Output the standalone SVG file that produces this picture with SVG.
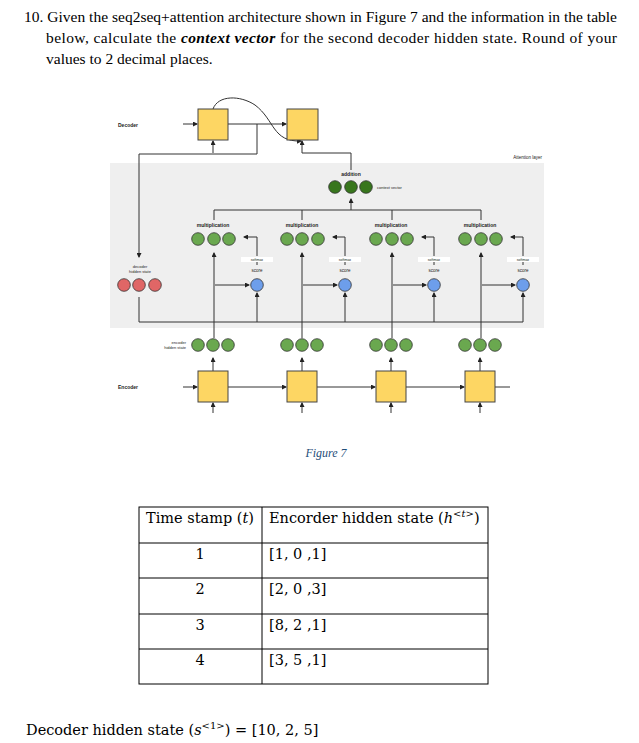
<svg xmlns="http://www.w3.org/2000/svg" width="639" height="743" viewBox="0 0 639 743">
<defs>
<marker id="a" markerWidth="5" markerHeight="5" refX="4" refY="2.5" orient="auto" markerUnits="userSpaceOnUse"><path d="M0,0L5,2.5L0,5z" fill="#222"/></marker>
<style>
.q{font-family:"Liberation Serif",serif;font-size:15.5px;fill:#000}
.t{font-family:"DejaVu Serif",serif;font-size:14.5px;fill:#000}
.s{font-family:"Liberation Sans",sans-serif;fill:#222}
.b{fill:#fdd663;stroke:#444;stroke-width:1}
.l{fill:none;stroke:#333;stroke-width:1}
.g{fill:#6aa84f;stroke:#333;stroke-width:0.8}
.dg{fill:#38761d;stroke:#333;stroke-width:0.8}
.r{fill:#e06666;stroke:#333;stroke-width:0.8}
.bl{fill:#6d9eeb;stroke:#333;stroke-width:0.8}
</style>
</defs>
<rect width="639" height="743" fill="#fff"/>
<text class="q" x="24" y="22" textLength="593" lengthAdjust="spacing">10. Given the seq2seq+attention architecture shown in Figure 7 and the information in the table</text>
<text class="q" x="46" y="43" textLength="571" lengthAdjust="spacing">below, calculate the <tspan font-weight="bold" font-style="italic">context vector</tspan> for the second decoder hidden state. Round of your</text>
<text class="q" x="46" y="64">values to 2 decimal places.</text>

<rect x="110" y="163" width="434" height="165" fill="#efefef"/>
<text class="s" x="542" y="159" font-size="4.5" text-anchor="end">Attention layer</text>
<text class="s" x="118" y="127" font-size="5" font-weight="bold">Decoder</text>
<text class="s" x="118" y="389" font-size="5" font-weight="bold">Encoder</text>
<text class="s" x="351" y="176" font-size="5" font-weight="bold" text-anchor="middle">addition</text>
<text class="s" x="377" y="189" font-size="4">context vector</text>
<text class="s" x="140" y="268" font-size="4" text-anchor="middle">decoder</text>
<text class="s" x="140" y="273" font-size="4" text-anchor="middle">hidden state</text>
<text class="s" x="186" y="344" font-size="4" text-anchor="end">encoder</text>
<text class="s" x="186" y="349" font-size="4" text-anchor="end">hidden state</text>

<g id="connectors">
<path class="l" d="M183,124H197" marker-end="url(#a)"/>
<path class="l" d="M228,124H286" marker-end="url(#a)"/>
<path class="l" d="M213,109C218,95 240,95 255,105C275,120 272,142 301,141" marker-end="url(#a)"/>
<path class="l" d="M213,153V141" marker-end="url(#a)"/>
<path class="l" d="M257,124V154H139V257" marker-end="url(#a)"/>
<path class="l" d="M351,170V153H302V141" marker-end="url(#a)"/>
<path class="l" d="M214,220V210H481V220M302,210V220M392,210V220"/>
<path class="l" d="M351,210V199" marker-end="url(#a)"/>
<path class="l" d="M139,297V322H523"/>
<g id="enc-lines">
<path class="l" d="M183,387H197" marker-end="url(#a)"/>
<path class="l" d="M228,387H286" marker-end="url(#a)"/>
<path class="l" d="M317,387H375" marker-end="url(#a)"/>
<path class="l" d="M406,387H464" marker-end="url(#a)"/>
<path class="l" d="M495,387H510"/>
</g>
</g>

<g id="decoder1"><rect class="b" x="198" y="109" width="30" height="31"/></g>
<g id="decoder2"><rect class="b" x="287" y="109" width="31" height="31"/></g>
<g id="context"><circle class="dg" cx="335" cy="187" r="6.3"/><circle class="dg" cx="351" cy="187" r="6.3"/><circle class="dg" cx="366" cy="187" r="6.3"/></g>
<g id="dec-hidden"><circle class="r" cx="124" cy="285" r="6.3"/><circle class="r" cx="139" cy="285" r="6.3"/><circle class="r" cx="155" cy="285" r="6.3"/></g>

<g id="att1">
<text class="s" x="213" y="227" font-size="5" font-weight="bold" text-anchor="middle">multiplication</text>
<circle class="g" cx="198" cy="239" r="6.3"/><circle class="g" cx="214" cy="239" r="6.3"/><circle class="g" cx="229" cy="239" r="6.3"/>
<path class="l" d="M257,256V237H244" marker-end="url(#a)"/>
<rect x="241" y="257" width="32" height="5" fill="#fff"/><text class="s" x="257" y="261" font-size="3.5" text-anchor="middle">softmax</text>
<path class="l" d="M257,262V265"/>
<text class="s" x="257" y="272" font-size="4.5" text-anchor="middle">score</text>
<circle class="bl" cx="257" cy="285" r="6.3"/>
<path class="l" d="M214,338V253" marker-end="url(#a)"/>
<path class="l" d="M215,285H249" marker-end="url(#a)"/>
<path class="l" d="M257,322V293" marker-end="url(#a)"/>
</g>
<g id="att2">
<text class="s" x="302" y="227" font-size="5" font-weight="bold" text-anchor="middle">multiplication</text>
<circle class="g" cx="287" cy="239" r="6.3"/><circle class="g" cx="302" cy="239" r="6.3"/><circle class="g" cx="318" cy="239" r="6.3"/>
<path class="l" d="M345,256V237H333" marker-end="url(#a)"/>
<rect x="329" y="257" width="32" height="5" fill="#fff"/><text class="s" x="345" y="261" font-size="3.5" text-anchor="middle">softmax</text>
<path class="l" d="M345,262V265"/>
<text class="s" x="345" y="272" font-size="4.5" text-anchor="middle">score</text>
<circle class="bl" cx="345" cy="285" r="6.3"/>
<path class="l" d="M302,338V253" marker-end="url(#a)"/>
<path class="l" d="M303,285H337" marker-end="url(#a)"/>
<path class="l" d="M345,322V293" marker-end="url(#a)"/>
</g>
<g id="att3">
<text class="s" x="391" y="227" font-size="5" font-weight="bold" text-anchor="middle">multiplication</text>
<circle class="g" cx="376" cy="239" r="6.3"/><circle class="g" cx="392" cy="239" r="6.3"/><circle class="g" cx="407" cy="239" r="6.3"/>
<path class="l" d="M434,256V237H422" marker-end="url(#a)"/>
<rect x="418" y="257" width="32" height="5" fill="#fff"/><text class="s" x="434" y="261" font-size="3.5" text-anchor="middle">softmax</text>
<path class="l" d="M434,262V265"/>
<text class="s" x="434" y="272" font-size="4.5" text-anchor="middle">score</text>
<circle class="bl" cx="434" cy="285" r="6.3"/>
<path class="l" d="M392,338V253" marker-end="url(#a)"/>
<path class="l" d="M393,285H426" marker-end="url(#a)"/>
<path class="l" d="M434,322V293" marker-end="url(#a)"/>
</g>
<g id="att4">
<text class="s" x="480" y="227" font-size="5" font-weight="bold" text-anchor="middle">multiplication</text>
<circle class="g" cx="465" cy="239" r="6.3"/><circle class="g" cx="481" cy="239" r="6.3"/><circle class="g" cx="496" cy="239" r="6.3"/>
<path class="l" d="M523,256V237H511" marker-end="url(#a)"/>
<rect x="507" y="257" width="32" height="5" fill="#fff"/><text class="s" x="523" y="261" font-size="3.5" text-anchor="middle">softmax</text>
<path class="l" d="M523,262V265"/>
<text class="s" x="523" y="272" font-size="4.5" text-anchor="middle">score</text>
<circle class="bl" cx="523" cy="285" r="6.3"/>
<path class="l" d="M481,338V253" marker-end="url(#a)"/>
<path class="l" d="M482,285H515" marker-end="url(#a)"/>
<path class="l" d="M523,322V293" marker-end="url(#a)"/>
</g>

<g id="enc1"><circle class="g" cx="198" cy="345" r="6.3"/><circle class="g" cx="213" cy="345" r="6.3"/><circle class="g" cx="228" cy="345" r="6.3"/>
<path class="l" d="M213,371V358" marker-end="url(#a)"/><rect class="b" x="198" y="371" width="30" height="31"/><path class="l" d="M213,413V403" marker-end="url(#a)"/></g>
<g id="enc2"><circle class="g" cx="287" cy="345" r="6.3"/><circle class="g" cx="302" cy="345" r="6.3"/><circle class="g" cx="317" cy="345" r="6.3"/>
<path class="l" d="M302,371V358" marker-end="url(#a)"/><rect class="b" x="287" y="371" width="30" height="31"/><path class="l" d="M302,413V403" marker-end="url(#a)"/></g>
<g id="enc3"><circle class="g" cx="376" cy="345" r="6.3"/><circle class="g" cx="391" cy="345" r="6.3"/><circle class="g" cx="406" cy="345" r="6.3"/>
<path class="l" d="M391,371V358" marker-end="url(#a)"/><rect class="b" x="376" y="371" width="30" height="31"/><path class="l" d="M391,413V403" marker-end="url(#a)"/></g>
<g id="enc4"><circle class="g" cx="465" cy="345" r="6.3"/><circle class="g" cx="480" cy="345" r="6.3"/><circle class="g" cx="495" cy="345" r="6.3"/>
<path class="l" d="M480,371V358" marker-end="url(#a)"/><rect class="b" x="465" y="371" width="30" height="31"/><path class="l" d="M480,413V403" marker-end="url(#a)"/></g>

<text x="326" y="457" font-family="Liberation Serif,serif" font-size="12" font-style="italic" fill="#1f4e79" text-anchor="middle">Figure 7</text>

<g id="table" fill="none" stroke="#000" stroke-width="1">
<rect x="139" y="507" width="349" height="177"/>
<path d="M262,507V684M139,543H488M139,578H488M139,614H488M139,649H488"/>
</g>
<text class="t" x="146" y="523">Time stamp (<tspan font-style="italic">t</tspan>)</text>
<text class="t" x="269" y="523">Encorder hidden state (<tspan font-style="italic">h</tspan><tspan font-size="10" dy="-6">&lt;<tspan font-style="italic">t</tspan>&gt;</tspan><tspan dy="6">)</tspan></text>
<text class="t" x="200" y="559" text-anchor="middle">1</text><text class="t" x="269" y="559">[1, 0 ,1]</text>
<text class="t" x="200" y="594" text-anchor="middle">2</text><text class="t" x="269" y="594">[2, 0 ,3]</text>
<text class="t" x="200" y="630" text-anchor="middle">3</text><text class="t" x="269" y="630">[8, 2 ,1]</text>
<text class="t" x="200" y="665" text-anchor="middle">4</text><text class="t" x="269" y="665">[3, 5 ,1]</text>
<text class="t" x="26" y="735">Decoder hidden state (<tspan font-style="italic">s</tspan><tspan font-size="10" dy="-6">&lt;1&gt;</tspan><tspan dy="6">) = [10, 2, 5]</tspan></text>
</svg>
